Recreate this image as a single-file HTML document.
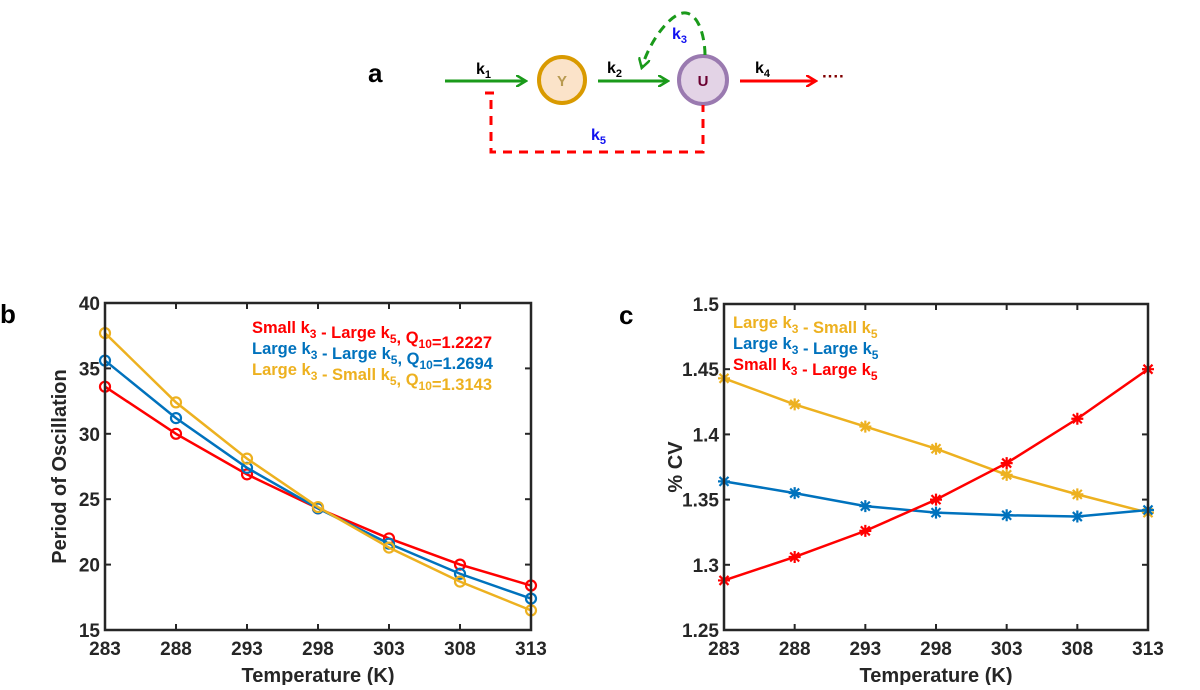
<!DOCTYPE html>
<html><head><meta charset="utf-8"><style>
body{margin:0;background:#fff;width:1200px;height:685px;overflow:hidden;font-family:"Liberation Sans",Arial,sans-serif}
svg text{font-family:"Liberation Sans",Arial,sans-serif;font-weight:bold}
</style></head><body>
<svg id="s" width="1200" height="685">
<g>
<text x="368" y="82" font-size="26" fill="#000">a</text>
<defs>
<marker id="ag" markerWidth="12" markerHeight="12" refX="9" refY="6" orient="auto" markerUnits="userSpaceOnUse"><path d="M0,0 L10,6 L0,12" fill="none" stroke="#1a9a1a" stroke-width="2.5"/></marker>
<marker id="ar" markerWidth="12" markerHeight="12" refX="9" refY="6" orient="auto" markerUnits="userSpaceOnUse"><path d="M0,0 L10,6 L0,12" fill="none" stroke="#f00" stroke-width="2.5"/></marker>
</defs>
<line x1="445" y1="81" x2="525" y2="81" stroke="#1a9a1a" stroke-width="3" marker-end="url(#ag)"/>
<text x="476" y="74" font-size="16">k<tspan font-size="11" dy="4">1</tspan></text>
<circle cx="562" cy="80" r="23" fill="#fbe3c9" stroke="#d99a00" stroke-width="4"/>
<text x="562" y="86" font-size="15" fill="#b89a50" text-anchor="middle">Y</text>
<line x1="598" y1="81" x2="667" y2="81" stroke="#1a9a1a" stroke-width="3" marker-end="url(#ag)"/>
<text x="607" y="73" font-size="16">k<tspan font-size="11" dy="4">2</tspan></text>
<circle cx="703" cy="80" r="24" fill="#e3d3e6" stroke="#9a7ab0" stroke-width="4"/>
<text x="703" y="86" font-size="15" fill="#6a0030" text-anchor="middle">U</text>
<path d="M705,55 C705,40 700,15 686,13 C672,11 650,40 642,67" fill="none" stroke="#1a9a1a" stroke-width="3" stroke-dasharray="9,6" marker-end="url(#ag)"/>
<text x="672" y="39" font-size="16" fill="#1010f0">k<tspan font-size="11" dy="4">3</tspan></text>
<line x1="740" y1="81" x2="815" y2="81" stroke="#f00" stroke-width="3" marker-end="url(#ar)"/>
<text x="755" y="73" font-size="16">k<tspan font-size="11" dy="4">4</tspan></text>
<text x="822" y="82" font-size="17" fill="#800000">····</text>
<path d="M485,93 L497,93 M491,100 L491,152 L703,152 L703,105" fill="none" stroke="#f00" stroke-width="3" stroke-dasharray="9,7"/>
<text x="591" y="140" font-size="16" fill="#1010f0">k<tspan font-size="11" dy="4">5</tspan></text>
</g>
<g id="pb"></g>
<g id="pc"></g>
</svg>
<script>
const temps=[283,288,293,298,303,308,313];
const bTicksY=[15,20,25,30,35,40];
const bRed=[33.6,30.0,26.9,24.3,22.0,20.0,18.4];
const bBlue=[35.6,31.2,27.4,24.3,21.6,19.3,17.4];
const bYellow=[37.7,32.4,28.1,24.4,21.3,18.7,16.5];
const cTicksY=[1.25,1.3,1.35,1.4,1.45,1.5];
const cTickLabels=["1.25","1.3","1.35","1.4","1.45","1.5"];
const cYellow=[1.443,1.423,1.406,1.389,1.369,1.354,1.340];
const cBlue=[1.364,1.355,1.345,1.340,1.338,1.337,1.342];
const cRed=[1.288,1.306,1.326,1.350,1.378,1.412,1.450];
const NS="http://www.w3.org/2000/svg";
const RED="#ff0000",BLUE="#0072bd",YEL="#edb120";
function mk(p,tag,a){const e=document.createElementNS(NS,tag);for(const k in a)e.setAttribute(k,a[k]);p.appendChild(e);return e;}
function chart(g,L,R,T,B,ymin,ymax,ticks,tlabels,ylabel,panel,series,marker,legend,legX,legY,ytx){
  const sx=v=>L+(v-283)/30*(R-L), sy=v=>B-(v-ymin)/(ymax-ymin)*(B-T);
  const t=mk(g,'text',{x:L-105,y:T+20,'font-size':26});t.textContent=panel;
  
  
  temps.forEach(v=>{const x=sx(v);
    mk(g,'line',{x1:x,y1:B,x2:x,y2:B-6,stroke:'#262626','stroke-width':2});
    mk(g,'line',{x1:x,y1:T,x2:x,y2:T+6,stroke:'#262626','stroke-width':2});
    const l=mk(g,'text',{x:x,y:B+25,'font-size':19,'text-anchor':'middle',fill:'#262626'});l.textContent=v;
    
    });
  ticks.forEach((v,i)=>{const y=sy(v);
    mk(g,'line',{x1:L,y1:y,x2:L+6,y2:y,stroke:'#262626','stroke-width':2});
    mk(g,'line',{x1:R,y1:y,x2:R-6,y2:y,stroke:'#262626','stroke-width':2});
    const l=mk(g,'text',{x:L-5,y:y+7,'font-size':19,'text-anchor':'end',fill:'#262626'});l.textContent=tlabels?tlabels[i]:v;
    
    });
  const xt=mk(g,'text',{x:(L+R)/2,y:B+52,'font-size':20,'text-anchor':'middle',fill:'#262626'});xt.textContent='Temperature (K)';
  
  
  const yt=mk(g,'text',{x:0,y:0,'font-size':20,'text-anchor':'middle',fill:'#262626',transform:`translate(${ytx},${(T+B)/2}) rotate(-90)`});yt.textContent=ylabel;
  
  
  series.forEach(s=>{
    const pl=mk(g,'polyline',{points:s.v.map((v,i)=>sx(temps[i])+','+sy(v)).join(' '),fill:'none',stroke:s.c,'stroke-width':2.5});
    
    
    s.v.forEach((v,i)=>{const x=sx(temps[i]),y=sy(v);let m;
      if(marker==='o'){m=mk(g,'circle',{cx:x,cy:y,r:5,fill:'none',stroke:s.c,'stroke-width':2.2});}
      else{m=mk(g,'path',{d:`M${x-6},${y}h12M${x},${y-6}v12M${x-4.5},${y-4.5}l9,9M${x-4.5},${y+4.5}l9,-9`,stroke:s.c,'stroke-width':2.2});}
      
      });
  });
  mk(g,'rect',{x:L,y:T,width:R-L,height:B-T,fill:'none',stroke:'#262626','stroke-width':2.5});
  legend.forEach((h,i)=>{const e=mk(g,'text',{x:legX,y:legY+i*21,'font-size':16.5});e.innerHTML=h;
    
    });
}
const sub=s=>`<tspan font-size="12" dy="5">${s}</tspan><tspan dy="-5"></tspan>`;
chart(document.getElementById('pb'),105,531,303,630,15,40,bTicksY,null,'Period of Oscillation','b',
 [{v:bRed,c:RED,n:'red'},{v:bBlue,c:BLUE,n:'blue'},{v:bYellow,c:YEL,n:'yellow'}],'o',
 [`<tspan fill="${RED}">Small k${sub(3)} - Large k${sub(5)}, Q${sub(10)}=1.2227</tspan>`,
  `<tspan fill="${BLUE}">Large k${sub(3)} - Large k${sub(5)}, Q${sub(10)}=1.2694</tspan>`,
  `<tspan fill="${YEL}">Large k${sub(3)} - Small k${sub(5)}, Q${sub(10)}=1.3143</tspan>`],252,333,66);
chart(document.getElementById('pc'),724,1148,304,630,1.25,1.5,cTicksY,cTickLabels,'% CV','c',
 [{v:cYellow,c:YEL,n:'yellow'},{v:cBlue,c:BLUE,n:'blue'},{v:cRed,c:RED,n:'red'}],'*',
 [`<tspan fill="${YEL}">Large k${sub(3)} - Small k${sub(5)}</tspan>`,
  `<tspan fill="${BLUE}">Large k${sub(3)} - Large k${sub(5)}</tspan>`,
  `<tspan fill="${RED}">Small k${sub(3)} - Large k${sub(5)}</tspan>`],733,328,682);
</script>
</body></html>
